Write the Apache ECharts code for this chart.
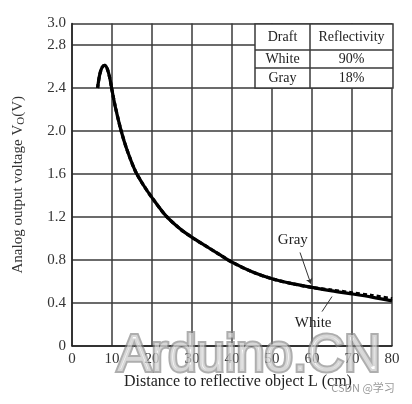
<!DOCTYPE html>
<html>
<head>
<meta charset="utf-8">
<script src="https://cdn.jsdelivr.net/npm/echarts@6/dist/echarts.min.js"></script>
<style>html,body{margin:0;padding:0;background:#fff}#c{width:412px;height:404px}</style>
</head>
<body>
<div id="c"></div>
<script>
// Data
var distance = [6.4, 6.9, 7.5, 8.2, 8.8, 9.4, 10.0, 10.8, 12.3, 13.7, 15.8, 17.8, 20, 23.5, 27, 30, 33, 36.5, 40, 45, 50, 55, 60, 65, 70, 75, 80];
var whiteV   = [2.40, 2.52, 2.59, 2.61, 2.58, 2.50, 2.38, 2.23, 2.00, 1.83, 1.63, 1.50, 1.38, 1.21, 1.09, 1.01, 0.94, 0.86, 0.78, 0.69, 0.625, 0.58, 0.545, 0.513, 0.485, 0.455, 0.42];
var grayV    = [2.40, 2.52, 2.59, 2.61, 2.58, 2.50, 2.38, 2.23, 2.00, 1.83, 1.63, 1.50, 1.38, 1.21, 1.09, 1.01, 0.94, 0.86, 0.78, 0.69, 0.625, 0.58, 0.545, 0.52, 0.495, 0.47, 0.44];
var xTicks = [0, 10, 20, 30, 40, 50, 60, 70, 80];
var yTicks = [0, 0.4, 0.8, 1.2, 1.6, 2.0, 2.4, 2.8, 3.0];
var tableHeader = ['Draft', 'Reflectivity'];
var tableRows = [['White', '90%'], ['Gray', '18%']];
var grayLabel = {text: 'Gray', at: [55.2, 0.99], from: [57.0, 0.87], to: [59.7, 0.58]};
var whiteLabel = {text: 'White', at: [60.3, 0.21], from: [62.5, 0.32], to: [65.0, 0.46]};

var serif = '"Liberation Serif", "DejaVu Serif", serif';
var chart = echarts.init(document.getElementById('c'));

function pairs(xs, ys) { return xs.map(function (x, i) { return [x, ys[i]]; }); }

var gridColor = '#3a3a3a';
var table = [];
(function () {
  var x0 = 255, x1 = 310, x2 = 393;
  var ys = [24, 50, 68, 88];
  table.push({type: 'rect', shape: {x: x0, y: ys[0], width: x2 - x0, height: ys[3] - ys[0]},
    style: {fill: '#fff', stroke: gridColor, lineWidth: 1.5}, z: 10});
  table.push({type: 'line', shape: {x1: x1, y1: ys[0], x2: x1, y2: ys[3]}, style: {stroke: gridColor, lineWidth: 1.5}, z: 11});
  table.push({type: 'line', shape: {x1: x0, y1: ys[1], x2: x2, y2: ys[1]}, style: {stroke: gridColor, lineWidth: 1.5}, z: 11});
  table.push({type: 'line', shape: {x1: x0, y1: ys[2], x2: x2, y2: ys[2]}, style: {stroke: gridColor, lineWidth: 1.5}, z: 11});
  var rows = [tableHeader].concat(tableRows);
  rows.forEach(function (r, i) {
    var cy = (ys[i] + ys[i + 1]) / 2;
    table.push({type: 'text', x: (x0 + x1) / 2, y: cy, z: 12,
      style: {text: r[0], font: '14px ' + serif, fill: '#222', align: 'center', verticalAlign: 'middle'}});
    table.push({type: 'text', x: (x1 + x2) / 2, y: cy, z: 12,
      style: {text: r[1], font: '14px ' + serif, fill: '#222', align: 'center', verticalAlign: 'middle'}});
  });
})();

var watermark = [
  {type: 'text', x: 249, y: 357, z: 20,
    style: {text: 'Arduino.CN', font: '51px "Liberation Sans", sans-serif', fill: 'rgba(255,255,255,0.5)',
      stroke: 'rgba(130,130,130,0.65)', lineWidth: 4, align: 'center', verticalAlign: 'middle'}},
  {type: 'text', x: 363, y: 388, z: 21,
    style: {text: 'CSDN @学习', font: '11px "Noto Sans CJK SC", sans-serif', fill: '#999', align: 'center', verticalAlign: 'middle'}}
];

function annot(a, arrow) {
  return {
    markPoint: {
      symbol: 'circle', symbolSize: 1, itemStyle: {color: 'rgba(0,0,0,0)'},
      label: {show: true, position: 'inside', color: '#222', fontFamily: serif, fontSize: 15, formatter: a.text},
      data: [{coord: a.at}]
    },
    markLine: {
      silent: true, symbol: ['none', arrow ? 'arrow' : 'none'], symbolSize: 5, label: {show: false},
      lineStyle: {color: '#333', width: 1, type: 'solid'},
      data: [[{coord: a.from}, {coord: a.to}]]
    }
  };
}

var grayAnn = annot(grayLabel, true), whiteAnn = annot(whiteLabel, false);

chart.setOption({
  animation: false,
  backgroundColor: '#fff',
  grid: {left: 72, right: 20, top: 23.5, bottom: 58},
  xAxis: {
    type: 'value', min: xTicks[0], max: xTicks[xTicks.length - 1], interval: 10,
    name: 'Distance to reflective object L (cm)', nameLocation: 'middle', nameGap: 28,
    nameTextStyle: {fontFamily: serif, fontSize: 16, color: '#222', padding: [0, 0, 0, 12]},
    axisLine: {show: true, lineStyle: {color: '#222', width: 1.5}},
    axisTick: {show: false},
    axisLabel: {fontFamily: serif, fontSize: 15, color: '#333', margin: 6},
    splitLine: {show: true, lineStyle: {color: gridColor, width: 1.5}}
  },
  yAxis: {
    type: 'value', min: yTicks[0], max: yTicks[yTicks.length - 1], interval: 0.4,
    name: 'Analog output voltage V{s|O}(V)', nameLocation: 'middle', nameGap: 45,
    nameTextStyle: {fontFamily: serif, fontSize: 15, color: '#333',
      rich: {s: {fontFamily: serif, fontSize: 11, color: '#333', verticalAlign: 'bottom', padding: [6, 0, 0, 0]}}},
    axisLine: {show: true, lineStyle: {color: '#222', width: 1.5}},
    axisTick: {show: false},
    axisLabel: {fontFamily: serif, fontSize: 15, color: '#333', margin: 6,
      formatter: function (v) { return v === 0 ? '0' : v.toFixed(1); }},
    splitLine: {show: true, lineStyle: {color: gridColor, width: 1.5}}
  },
  series: [
    Object.assign({
      name: 'White', type: 'line', data: pairs(distance, whiteV), showSymbol: false,
      smooth: 0.3, lineStyle: {color: '#000', width: 3.2}, z: 5
    }, {markPoint: whiteAnn.markPoint, markLine: whiteAnn.markLine}),
    Object.assign({
      name: 'Gray', type: 'line', data: pairs(distance, grayV), showSymbol: false,
      smooth: 0.3, lineStyle: {color: '#000', width: 3.2, type: [4, 3]}, z: 6
    }, {markPoint: grayAnn.markPoint, markLine: grayAnn.markLine})
  ],
  graphic: table.concat(watermark)
});
</script>
</body>
</html>
